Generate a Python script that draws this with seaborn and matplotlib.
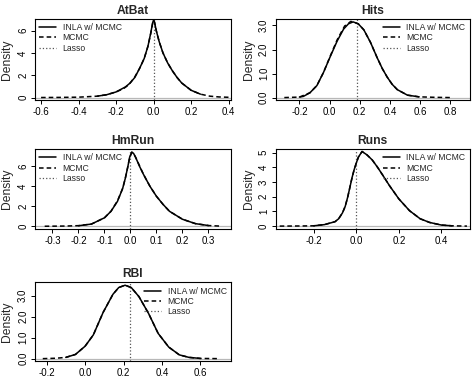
import numpy as np
import pandas as pd
import matplotlib
matplotlib.use('Agg')
import matplotlib.pyplot as plt
import seaborn as sns

sns.set_theme(style='white')
plt.rcParams['font.family'] = ['Liberation Sans', 'DejaVu Sans']

# posterior densities
atbat_x = [-0.3, -0.25, -0.2, -0.15, -0.125, -0.1, -0.075, -0.05, -0.03, -0.015, -0.005,
           0.0, 0.005, 0.015, 0.03, 0.05, 0.075, 0.1, 0.125, 0.15, 0.2, 0.25]
atbat_inla = [0.12, 0.25, 0.5, 0.95, 1.3, 1.8, 2.6, 3.5, 4.6, 5.8, 6.7,
              6.95, 6.75, 5.95, 5.0, 4.0, 3.1, 2.4, 1.8, 1.3, 0.65, 0.3]
atbat_mcmc_x = [-0.6, -0.5, -0.4, -0.3, -0.25, -0.2, -0.16, -0.14, -0.125, -0.1, -0.075,
                -0.05, -0.03, -0.015, -0.005, 0.0, 0.005, 0.015, 0.03, 0.05, 0.075, 0.1,
                0.125, 0.15, 0.2, 0.25, 0.3, 0.35, 0.4]
atbat_mcmc = [0.0, 0.01, 0.03, 0.12, 0.25, 0.5, 0.8, 1.05, 1.3, 1.85, 2.6,
              3.5, 4.6, 5.75, 6.65, 6.9, 6.75, 5.95, 5.0, 4.0, 3.1, 2.4,
              1.8, 1.3, 0.65, 0.3, 0.12, 0.05, 0.02]

hits_x = [-0.2, -0.173, -0.13, -0.084, -0.04, 0.004, 0.05, 0.093, 0.125, 0.156, 0.19,
          0.227, 0.271, 0.316, 0.35, 0.382, 0.415, 0.449, 0.516, 0.593]
hits_inla = [0.02, 0.05, 0.2, 0.5, 1.05, 1.7, 2.35, 2.85, 3.07, 3.15, 3.07,
             2.82, 2.3, 1.65, 1.2, 0.85, 0.55, 0.33, 0.1, 0.03]
hits_mcmc_x = [-0.3, -0.2, -0.13, -0.084, -0.04, 0.004, 0.05, 0.08, 0.1, 0.12, 0.14,
               0.156, 0.19, 0.227, 0.271, 0.316, 0.35, 0.382, 0.415, 0.449, 0.516,
               0.593, 0.7, 0.8]
hits_mcmc = [0.0, 0.02, 0.2, 0.5, 1.05, 1.72, 2.4, 2.75, 2.98, 3.06, 3.17,
             3.15, 3.07, 2.82, 2.3, 1.65, 1.2, 0.85, 0.55, 0.33, 0.1,
             0.03, 0.01, 0.0]

hmrun_x = [-0.2, -0.15, -0.1, -0.075, -0.05, -0.03, -0.02, -0.01, -0.003, 0.005, 0.012,
           0.02, 0.035, 0.05, 0.075, 0.1, 0.125, 0.15, 0.2, 0.25, 0.3]
hmrun_inla = [0.05, 0.22, 0.85, 1.5, 2.5, 3.8, 4.8, 6.0, 6.95, 7.45, 7.3,
              6.9, 6.0, 5.2, 4.0, 3.0, 2.2, 1.5, 0.7, 0.26, 0.07]
hmrun_mcmc_x = [-0.33, -0.25, -0.2, -0.15, -0.1, -0.075, -0.05, -0.03, -0.02, -0.01,
                -0.003, 0.005, 0.012, 0.02, 0.035, 0.05, 0.075, 0.1, 0.125, 0.15, 0.2,
                0.25, 0.3, 0.35]
hmrun_mcmc = [0.0, 0.02, 0.06, 0.22, 0.85, 1.5, 2.55, 3.8, 4.8, 6.0,
              6.9, 7.4, 7.3, 6.9, 6.05, 5.2, 4.0, 3.0, 2.2, 1.5, 0.7,
              0.26, 0.07, 0.01]

runs_x = [-0.2, -0.15, -0.1, -0.083, -0.065, -0.052, -0.04, -0.03, -0.02, -0.01, 0.0,
          0.01, 0.027, 0.05, 0.075, 0.1, 0.125, 0.156, 0.2, 0.25, 0.3, 0.344, 0.4, 0.45]
runs_inla = [0.02, 0.1, 0.3, 0.5, 0.9, 1.35, 2.0, 2.65, 3.3, 3.85, 4.3,
             4.7, 5.08, 4.85, 4.5, 4.0, 3.45, 2.75, 1.85, 1.05, 0.5, 0.25, 0.07, 0.02]
runs_mcmc_x = [-0.36, -0.25, -0.2, -0.15, -0.1, -0.083, -0.065, -0.052, -0.04, -0.03,
               -0.02, -0.01, 0.0, 0.01, 0.027, 0.05, 0.075, 0.1, 0.125, 0.156, 0.2,
               0.25, 0.3, 0.344, 0.4, 0.45, 0.52]
runs_mcmc = [0.0, 0.01, 0.02, 0.1, 0.3, 0.5, 0.9, 1.35, 2.0, 2.65,
             3.3, 3.85, 4.3, 4.7, 5.08, 4.85, 4.5, 4.0, 3.45, 2.75, 1.85,
             1.05, 0.5, 0.25, 0.07, 0.02, 0.0]

rbi_x = [-0.1, -0.05, 0.0, 0.043, 0.094, 0.145, 0.175, 0.208, 0.24, 0.28, 0.33,
         0.38, 0.435, 0.49, 0.54, 0.6]
rbi_inla = [0.06, 0.2, 0.59, 1.13, 2.2, 3.06, 3.38, 3.49, 3.38, 2.95, 2.15,
            1.2, 0.55, 0.18, 0.06, 0.01]
rbi_mcmc_x = [-0.22, -0.15, -0.1, -0.05, 0.0, 0.043, 0.094, 0.145, 0.175, 0.208, 0.24,
              0.28, 0.33, 0.38, 0.435, 0.49, 0.54, 0.6, 0.7]
rbi_mcmc = [0.0, 0.02, 0.06, 0.2, 0.59, 1.13, 2.2, 3.06, 3.38, 3.49, 3.38,
            2.95, 2.15, 1.2, 0.55, 0.18, 0.06, 0.01, 0.0]

titles = ['AtBat', 'Hits', 'HmRun', 'Runs', 'RBI']
lasso = [0.0, 0.185, 0.0, 0.0, 0.232]
xticks = [[-0.6, -0.4, -0.2, 0.0, 0.2, 0.4],
          [-0.2, 0.0, 0.2, 0.4, 0.6, 0.8],
          [-0.3, -0.2, -0.1, 0.0, 0.1, 0.2, 0.3],
          [-0.2, 0.0, 0.2, 0.4],
          [-0.2, 0.0, 0.2, 0.4, 0.6]]
yticks = [[0, 2, 4, 6], [0, 1, 2, 3], [0, 2, 4, 6], [0, 1, 2, 3, 4, 5], [0, 1, 2, 3]]
ytick_fmt = ['{:.0f}', '{:.1f}', '{:.0f}', '{:.0f}', '{:.1f}']

curves = [(atbat_x, atbat_inla, atbat_mcmc_x, atbat_mcmc),
          (hits_x, hits_inla, hits_mcmc_x, hits_mcmc),
          (hmrun_x, hmrun_inla, hmrun_mcmc_x, hmrun_mcmc),
          (runs_x, runs_inla, runs_mcmc_x, runs_mcmc),
          (rbi_x, rbi_inla, rbi_mcmc_x, rbi_mcmc)]

# layout (figure fractions) and axis ranges
boxes = [[0.074, 0.739, 0.413, 0.212],
         [0.582, 0.739, 0.409, 0.212],
         [0.074, 0.402, 0.413, 0.209],
         [0.582, 0.402, 0.409, 0.209],
         [0.074, 0.057, 0.413, 0.206]]
xlims = [(-0.632, 0.412), (-0.356, 0.929), (-0.367, 0.386), (-0.378, 0.533), (-0.26, 0.758)]
ylims = [(-0.22, 7.06), (-0.1, 3.28), (-0.28, 7.75), (-0.2, 5.25), (-0.12, 3.63)]
legend_loc = ['upper left', 'upper right', 'upper left', 'upper right', 'upper right']

fig = plt.figure(figsize=(4.74, 3.83), dpi=100)

for i, name in enumerate(titles):
    ax = fig.add_axes(boxes[i])
    x_inla, y_inla, x_mcmc, y_mcmc = curves[i]
    ax.axhline(0, color='#b8b8b8', lw=0.9, zorder=1)
    sns.lineplot(x=x_inla, y=y_inla, ax=ax, color='black', lw=1.1,
                 label='INLA w/ MCMC', zorder=3)
    sns.lineplot(x=x_mcmc, y=y_mcmc, ax=ax, color='black', lw=1.1,
                 linestyle=(0, (3, 2)), label='MCMC', zorder=2)
    ax.axvline(lasso[i], color='#555555', ls=':', lw=0.9, label='Lasso', zorder=2)

    ax.set_xlim(*xlims[i])
    ax.set_ylim(*ylims[i])
    ax.set_xticks(xticks[i])
    ax.set_xticklabels(['{:.1f}'.format(v) for v in xticks[i]])
    ax.set_yticks(yticks[i])
    ax.set_yticklabels([ytick_fmt[i].format(v) for v in yticks[i]],
                       rotation=90, va='center')
    ax.tick_params(direction='out', length=3, width=0.7, labelsize=7, pad=2,
                   colors='black', bottom=True, left=True)
    for s in ax.spines.values():
        s.set_color('black')
        s.set_linewidth(0.8)

    ax.set_title(name, fontsize=8.7, fontweight='bold', pad=3.5)
    ax.set_xlabel('')
    ax.set_ylabel('Density', fontsize=8.7)
    ax.yaxis.set_label_coords(-0.115 if i % 2 == 0 else -0.107, 0.5)

    ax.legend(loc=legend_loc[i], frameon=False, fontsize=6.2, handlelength=1.9,
              handletextpad=0.8, labelspacing=0.15, borderaxespad=0.2, borderpad=0.3)

fig.savefig('out.png', dpi=100)
